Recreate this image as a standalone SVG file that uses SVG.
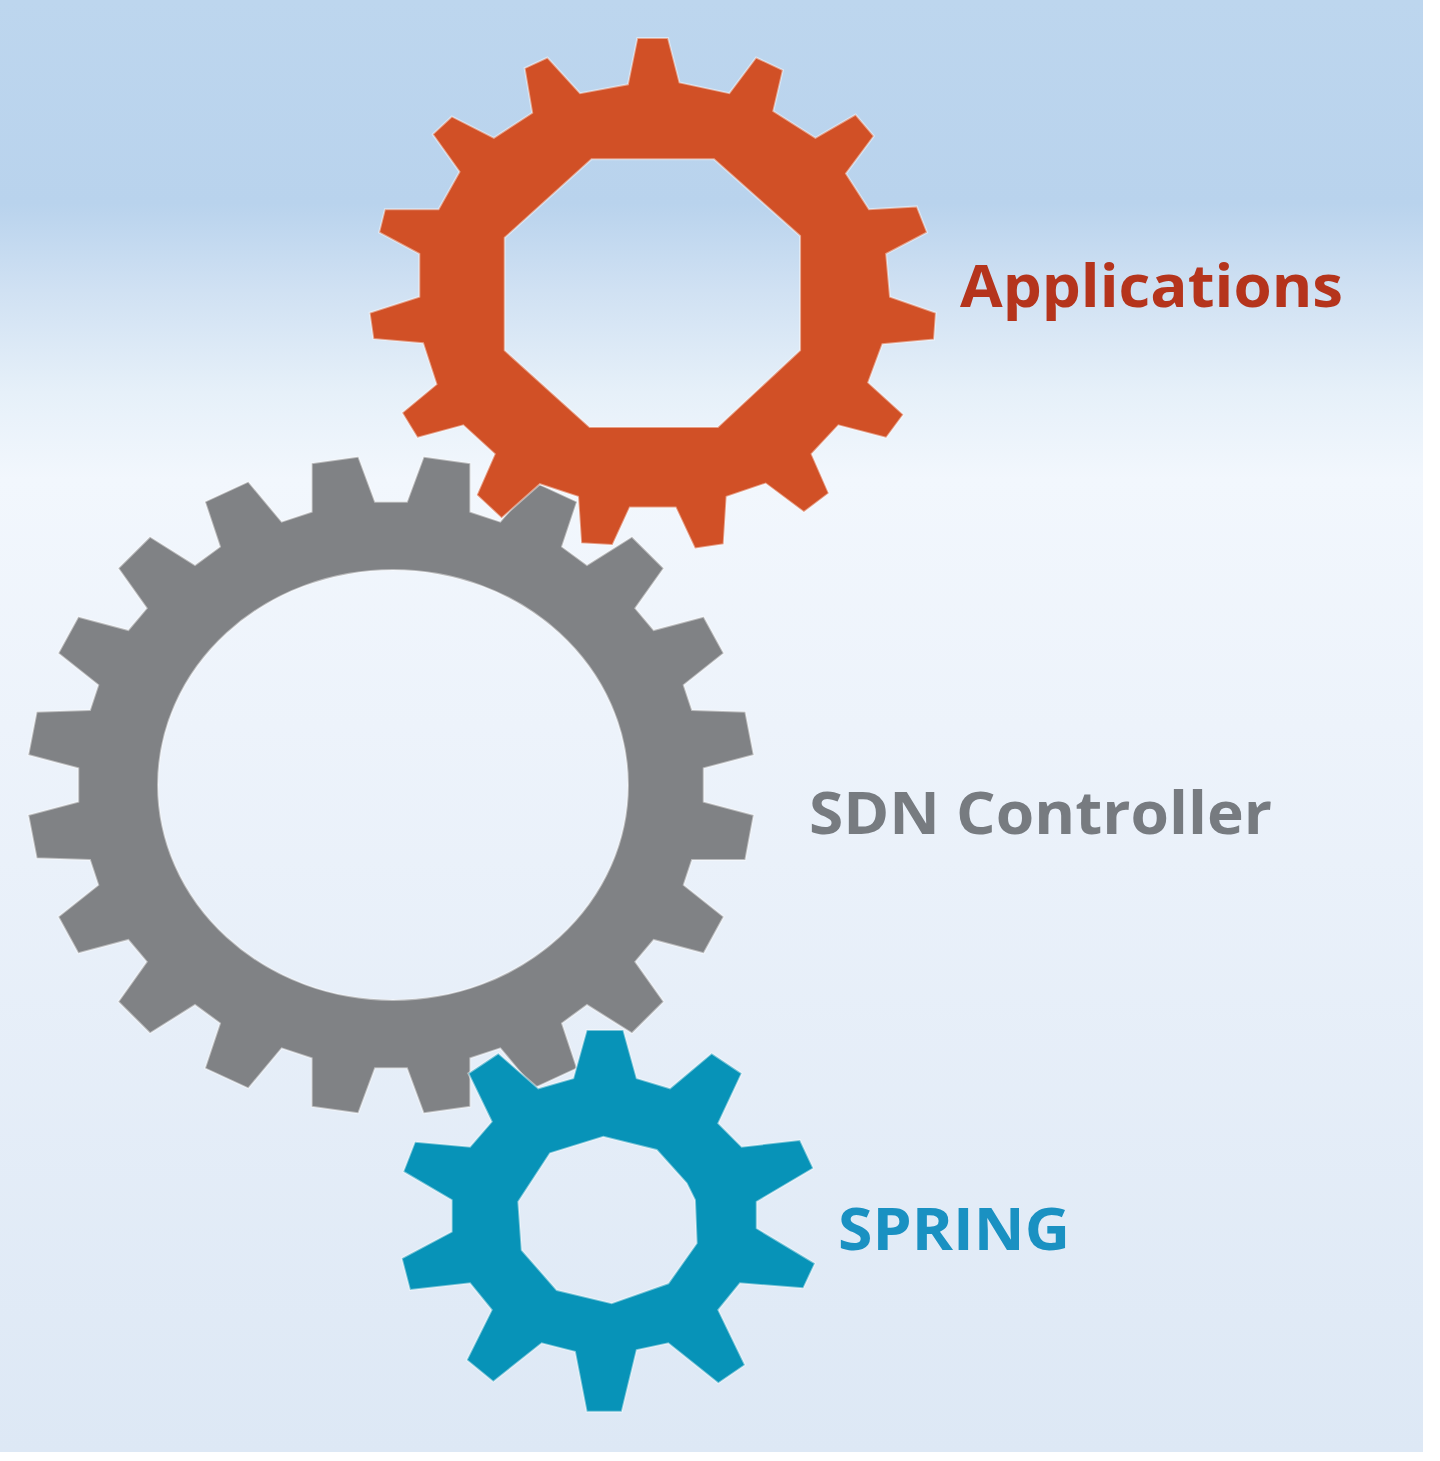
<svg xmlns="http://www.w3.org/2000/svg" width="1440" height="1461" viewBox="0 0 1440 1461">
<style>
.gear{fill-rule:evenodd;stroke:#fff;stroke-opacity:.45;stroke-width:2;stroke-linejoin:miter}
.label{font-family:"Open Sans","Noto Sans","Liberation Sans",sans-serif;font-weight:700;font-size:59px}
</style>
<defs>
<linearGradient id="bg" x1="0" y1="0" x2="0" y2="1452" gradientUnits="userSpaceOnUse">
<stop offset="0" stop-color="#bdd6ee"/>
<stop offset=".14" stop-color="#b9d3ed"/>
<stop offset=".2" stop-color="#d0e1f3"/>
<stop offset=".27" stop-color="#e6f0f9"/>
<stop offset=".33" stop-color="#f2f7fd"/>
<stop offset=".5" stop-color="#edf3fb"/>
<stop offset="1" stop-color="#dde8f5"/>
</linearGradient>
</defs>
<rect width="1440" height="1461" fill="#fff"/>
<rect id="background" x="0" y="0" width="1423" height="1452" fill="url(#bg)"/>
<g id="gear-sdn-controller">
<path class="gear" fill="#808285" d="M78.3 768.3L28.3 755L36.7 711.7L90 710L98.3 685L58.3 653.3L78.3 616.7L128.3 630L146.7 608.3L118.3 568.3L150 536.7L195 565L220 546.7L205 501.7L248.3 481.7L281.7 521.7L311.7 511.7L311.7 463.3L358.3 456.7L375 501.7L407 501.7L423.7 456.7L470.3 463.3L470.3 511.7L500.3 521.7L533.7 481.7L577 501.7L562 546.7L587 565L632 536.7L663.7 568.3L635.3 608.3L653.7 630L703.7 616.7L723.7 653.3L683.7 685L692 710L745.3 711.7L753.7 755L703.7 768.3L703.7 801.7L753.7 815L745.3 860L692 860L683.7 885L723.7 916.7L703.7 953.3L653.7 940L635.3 961.7L663.7 1001.7L632 1033.3L587 1005L562 1023.3L577 1068.3L533.7 1088.3L500.3 1048.3L470.3 1058.3L470.3 1106.7L423.7 1113.3L407 1068.3L375 1068.3L358.3 1113.3L311.7 1106.7L311.7 1058.3L281.7 1048.3L248.3 1088.3L205 1068.3L220 1023.3L195 1005L150 1033.3L118.3 1001.7L146.7 961.7L128.3 940L78.3 953.3L58.3 916.7L98.3 885L90 860L36.7 858.3L28.3 815L78.3 801.7Z M158 785A235 215 0 1 0 628 785A235 215 0 1 0 158 785Z"/>
</g>
<g id="gear-applications">
<path class="gear" fill="#d15026" d="M627.9 84.3L637.4 37.9L668 37.9L679.5 82.5L729.3 93.2L756.1 57.5L782.9 70L773.3 111.1L815.4 137.8L855.6 114.6L873.9 136.1L846 173.6L869 209.3L916.8 206.4L927.1 232.5L886.2 253.9L890 296.8L935.9 312.8L934 339.6L882.4 344.3L868.2 382.5L903.4 414.6L886.2 437.8L838.4 425.3L811.6 453.9L828.8 493.2L803.9 512.1L765.7 483.5L726.6 496.7L723.6 544.2L694.9 548.5L675.7 507.5L629.8 507.5L612.6 545L581.2 543.2L578.1 496.7L539.9 484.2L501.6 518.2L476.7 495L494.7 453.9L463.3 425.3L417.4 437.8L402.1 412.8L436.5 384.2L423.1 343.2L373.4 338.9L369.6 312.8L419.3 296.8L419.3 253.9L379.1 232.5L384.9 209.3L438.5 209.3L459.5 171.8L432.7 134.3L451.8 116.4L493.9 137.8L532.2 112.8L524.6 68.2L547.5 57.5L580 93.2Z M591.5 159.3L714 159.3L800.1 236L800.1 350.3L717.8 427.1L589.6 427.1L504.7 350.3L504.7 237.8Z"/>
</g>
<g id="gear-spring">
<path class="gear" fill="#0793b8" d="M586.7 1030L623.3 1030L636.7 1078.3L670 1088.3L711.7 1053.3L741.7 1073.3L718.3 1123.3L741.7 1146.7L800 1140L813.3 1168.3L756.7 1201.7L756.7 1228.3L815 1263.3L803.3 1288.3L740 1283.3L718.3 1310L745 1365L718.3 1383.3L668.3 1343.3L636.7 1350L621.7 1411.7L586.7 1411.7L575 1351.7L541.7 1343.3L493.3 1381.7L466.7 1360L491.7 1310L470 1283.3L410 1290L401.7 1258.3L451.7 1231.7L451.7 1200L403.3 1171.7L415 1141.7L470 1146.7L491.7 1121.7L468.3 1073.3L498.3 1053.3L538.3 1088.3L573.3 1078.3Z M603.3 1136.7L656.7 1150L686.7 1183.3L695 1200L696.7 1243.3L668.3 1283.3L611.7 1303.3L556.7 1290L521.7 1250L518.3 1201.7L550 1153.3Z"/>
</g>
<g id="label-applications"><text class="label" x="960" y="307" fill="#b5341c" textLength="383" lengthAdjust="spacingAndGlyphs">Applications</text></g>
<g id="label-sdn-controller"><text class="label" x="809" y="834" fill="#777b80" textLength="463" lengthAdjust="spacingAndGlyphs">SDN Controller</text></g>
<g id="label-spring"><text class="label" x="838" y="1250" fill="#1a91c2" textLength="232" lengthAdjust="spacingAndGlyphs">SPRING</text></g>
<g id="connectors"/>
</svg>
